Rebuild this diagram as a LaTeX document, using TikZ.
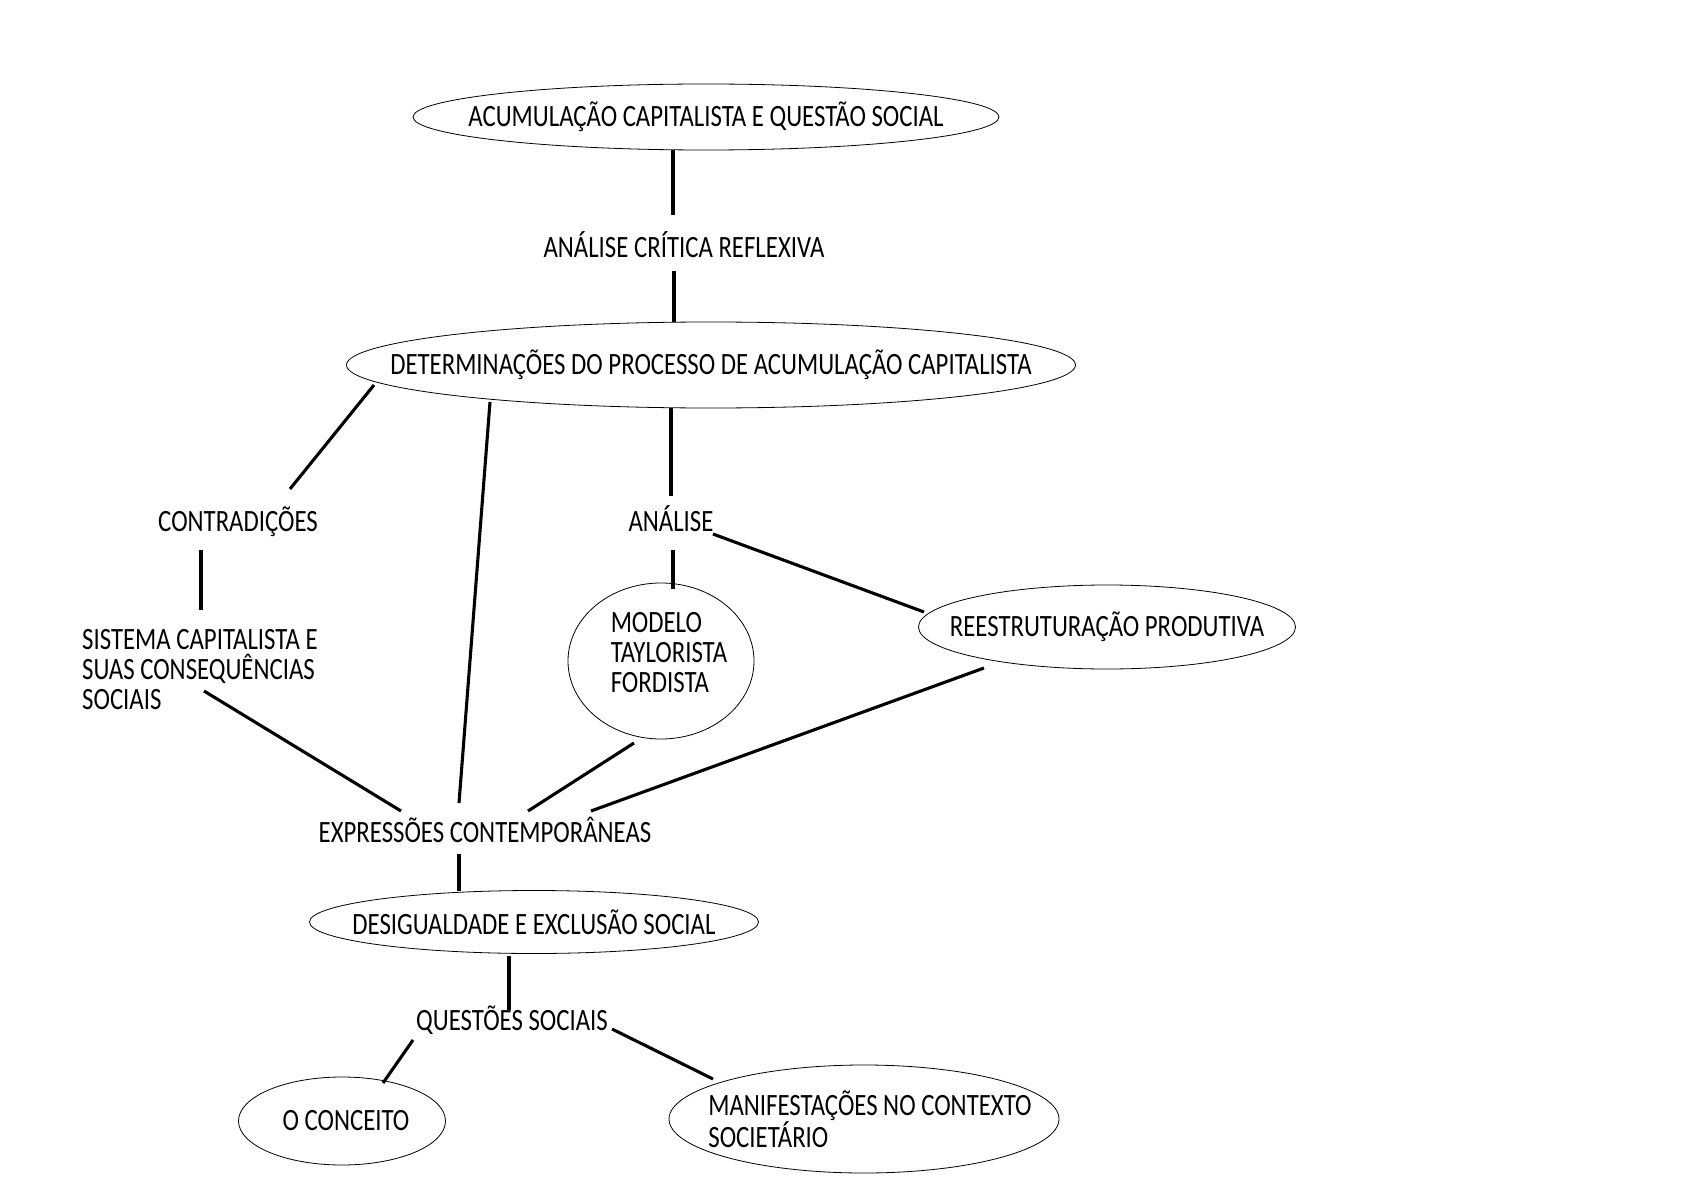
\documentclass[tikz,border=0pt]{standalone}
\usepackage{fontspec}
\setmainfont{Carlito}[FakeStretch=0.8]
\usetikzlibrary{shapes.geometric}

\tikzset{
  bubble/.style={ellipse, draw, line width=0.8pt, inner sep=-200pt},
  tag/.style={inner sep=0pt, text height=20pt, text depth=0pt},
  link/.style={line width=3.1pt},
}

\begin{document}
\begin{tikzpicture}[x=1pt, y=-1pt, font=\fontsize{31}{30}\selectfont]

  \useasboundingbox (0,0) rectangle (1684,1190);

  % Ellipses
  \node[bubble, minimum width=586pt, minimum height=66pt] (acum) at (706,117)
    {ACUMULAÇÃO CAPITALISTA E QUESTÃO SOCIAL};
  \node[bubble, minimum width=729pt, minimum height=86pt] (determ) at (711,365)
    {DETERMINAÇÕES DO PROCESSO DE ACUMULAÇÃO CAPITALISTA};
  \node[bubble, minimum width=186pt, minimum height=156pt, align=left] (modelo) at (661,661)
    {\hspace*{16pt}MODELO\\\hspace*{16pt}TAYLORISTA\\\hspace*{16pt}FORDISTA\rule[-18pt]{0pt}{18pt}};
  \node[bubble, minimum width=377pt, minimum height=84pt] (reestr) at (1107,627)
    {REESTRUTURAÇÃO PRODUTIVA};
  \node[bubble, minimum width=449pt, minimum height=63pt] (desig) at (534,922)
    {DESIGUALDADE E EXCLUSÃO SOCIAL};
  \node[bubble, minimum width=207pt, minimum height=88pt] (conceito) at (342,1121)
    {\hspace*{8pt}O CONCEITO};
  \node[bubble, minimum width=390pt, minimum height=108pt, align=left] (manif) at (864,1119)
    {\hspace*{12pt}MANIFESTAÇÕES NO CONTEXTO\\\hspace*{12pt}SOCIETÁRIO};

  % Textes libres
  \node[tag] (critica) at (684,248) {ANÁLISE CRÍTICA REFLEXIVA};
  \node[tag] (contrad) at (238,521) {CONTRADIÇÕES};
  \node[inner sep=0pt, align=left, anchor=west] (sistema) at (82,670)
    {SISTEMA CAPITALISTA E\\SUAS CONSEQUÊNCIAS\\SOCIAIS};
  \node[tag] (analise) at (671,521) {ANÁLISE};
  \node[tag] (express) at (485,832) {EXPRESSÕES CONTEMPORÂNEAS};
  \node[tag] (questoes) at (512,1020) {QUESTÕES SOCIAIS};

  % Liaisons
  \draw[link] ([shift={(-33,33)}]acum.center) -- ([shift={(-11,-33)}]critica.center);
  \draw[link] ([shift={(-10,23)}]critica.center) -- ([shift={(-37,-43)}]determ.center);
  \draw[link] ([shift={(-337,20)}]determ.center) -- ([shift={(52,-32)}]contrad.center);
  \draw[link] ([shift={(-221,37)}]determ.center) -- ([shift={(-26,-29)}]express.center);
  \draw[link] ([shift={(-40,43)}]determ.center) -- ([shift={(0,-25)}]analise.center);
  \draw[link] ([shift={(-37,29)}]contrad.center) -- ([shift={(119,-60)}]sistema.west);
  \draw[link] ([shift={(122,21)}]sistema.west) -- ([shift={(-84,-21)}]express.center);
  \draw[link] ([shift={(2,29)}]analise.center) -- ([shift={(12,-72)}]modelo.center);
  \draw[link] ([shift={(42,13)}]analise.center) -- ([shift={(-183,-15)}]reestr.center);
  \draw[link] ([shift={(-27,82)}]modelo.center) -- ([shift={(43,-21)}]express.center);
  \draw[link] ([shift={(-123,41)}]reestr.center) -- ([shift={(106,-21)}]express.center);
  \draw[link] ([shift={(-26,22)}]express.center) -- ([shift={(-75,-31)}]desig.center);
  \draw[link] ([shift={(-25,34)}]desig.center) -- ([shift={(-3,-10)}]questoes.center);
  \draw[link] ([shift={(-99,20)}]questoes.center) -- ([shift={(41,-38)}]conceito.center);
  \draw[link] ([shift={(100,9)}]questoes.center) -- ([shift={(-151,-40)}]manif.center);

\end{tikzpicture}
\end{document}
